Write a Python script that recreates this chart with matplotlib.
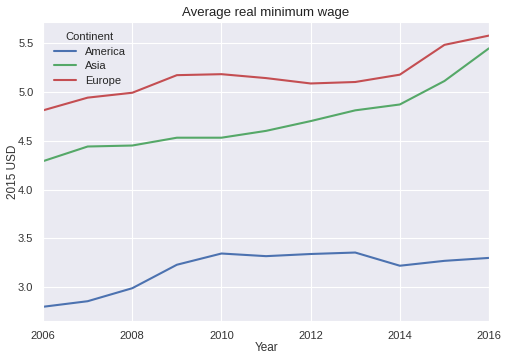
import matplotlib
matplotlib.use("Agg")
import matplotlib.pyplot as plt
import seaborn as sns

years = list(range(2006, 2017))
america = [2.80, 2.857, 2.99, 3.23, 3.345, 3.318, 3.34, 3.355, 3.22, 3.27, 3.30]
asia = [4.29, 4.44, 4.45, 4.53, 4.53, 4.60, 4.70, 4.81, 4.87, 5.11, 5.445]
europe = [4.81, 4.94, 4.99, 5.17, 5.18, 5.14, 5.085, 5.10, 5.175, 5.48, 5.575]

continents = ["America", "Asia", "Europe"]
colors = ["#4C72B0", "#55A868", "#C44E52"]

sns.set_style("darkgrid")
plt.rcParams['font.family'] = ['Liberation Sans', 'DejaVu Sans']

fig = plt.figure(figsize=(5.07, 3.59), dpi=100)
ax = fig.add_axes([0.085, 0.106, 0.8795, 0.833])

for name, vals, c in zip(continents, [america, asia, europe], colors):
    ax.plot(years, vals, color=c, linewidth=1.5, label=name)

ax.set_xlim(2006, 2016)
ax.set_ylim(2.655, 5.715)
ax.set_xticks(range(2006, 2017, 2))
ax.set_yticks([3.0, 3.5, 4.0, 4.5, 5.0, 5.5])
ax.tick_params(labelsize=8, colors="#333333")
ax.set_xlabel("Year", fontsize=8.5, color="#333333", labelpad=1)
ax.set_ylabel("2015 USD", fontsize=8.5, color="#333333", labelpad=-1)
ax.set_title("Average real minimum wage", fontsize=9.5, color="#222222", pad=4)

leg = ax.legend(title="Continent", loc="upper left", frameon=False, fontsize=8,
                title_fontsize=8, labelspacing=0.4, borderaxespad=0.55)

fig.savefig("out.png", dpi=100)
